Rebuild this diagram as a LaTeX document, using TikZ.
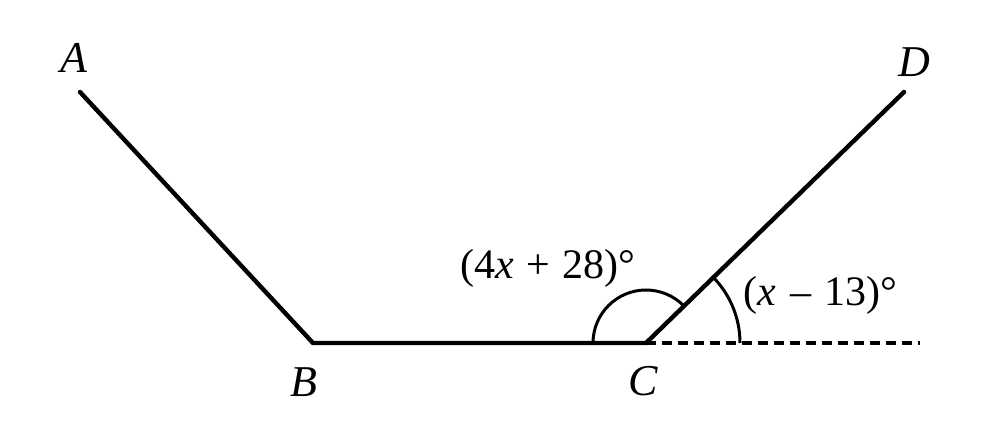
\documentclass[tikz,border=0pt]{standalone}
\usepackage{fontspec}
\setmainfont{Liberation Serif}
\usetikzlibrary{calc}
\begin{document}
\begin{tikzpicture}[x=0.5pt,y=-0.5pt,
  seg/.style={line width=2.2pt,line cap=round,line join=miter},
  arcl/.style={line width=1.5pt},
  ext/.style={line width=1.6pt,dash pattern=on 5pt off 3pt},
  pt/.style={font=\fontsize{22}{24}\selectfont\itshape,inner sep=0pt},
  ang/.style={font=\fontsize{21}{24}\selectfont,inner sep=0pt}]
\useasboundingbox (0,0) rectangle (1000,438);
\coordinate (A) at (80,92);
\coordinate (B) at (313,343);
\coordinate (C) at (646,343);
\coordinate (D) at (904,92);
\coordinate (E) at (920,343);
\draw[seg] (A) -- (B) -- (C) -- (D);
\draw[ext] (C) -- (E);
\draw[arcl] ($(C)+(-53,0)$) arc[start angle=180,end angle=315.8,radius=53];
\draw[arcl] ($(C)+(94,0)$) arc[start angle=0,end angle=-44.2,radius=94];
\node[pt] (la) at (74,58) {A};
\node[pt] (ld) at (914,62) {D};
\node[pt] (lb) at (304,382) {B};
\node[pt] (lc) at (643,381) {C};
\node[ang] (t1) at (548,268) {(4\textit{x}\hspace{0.3em}+\hspace{0.3em}28)°};
\node[ang] (t2) at (820,295) {(\textit{x}\hspace{0.35em}–\hspace{0.3em}13)°};
\end{tikzpicture}
\end{document}
